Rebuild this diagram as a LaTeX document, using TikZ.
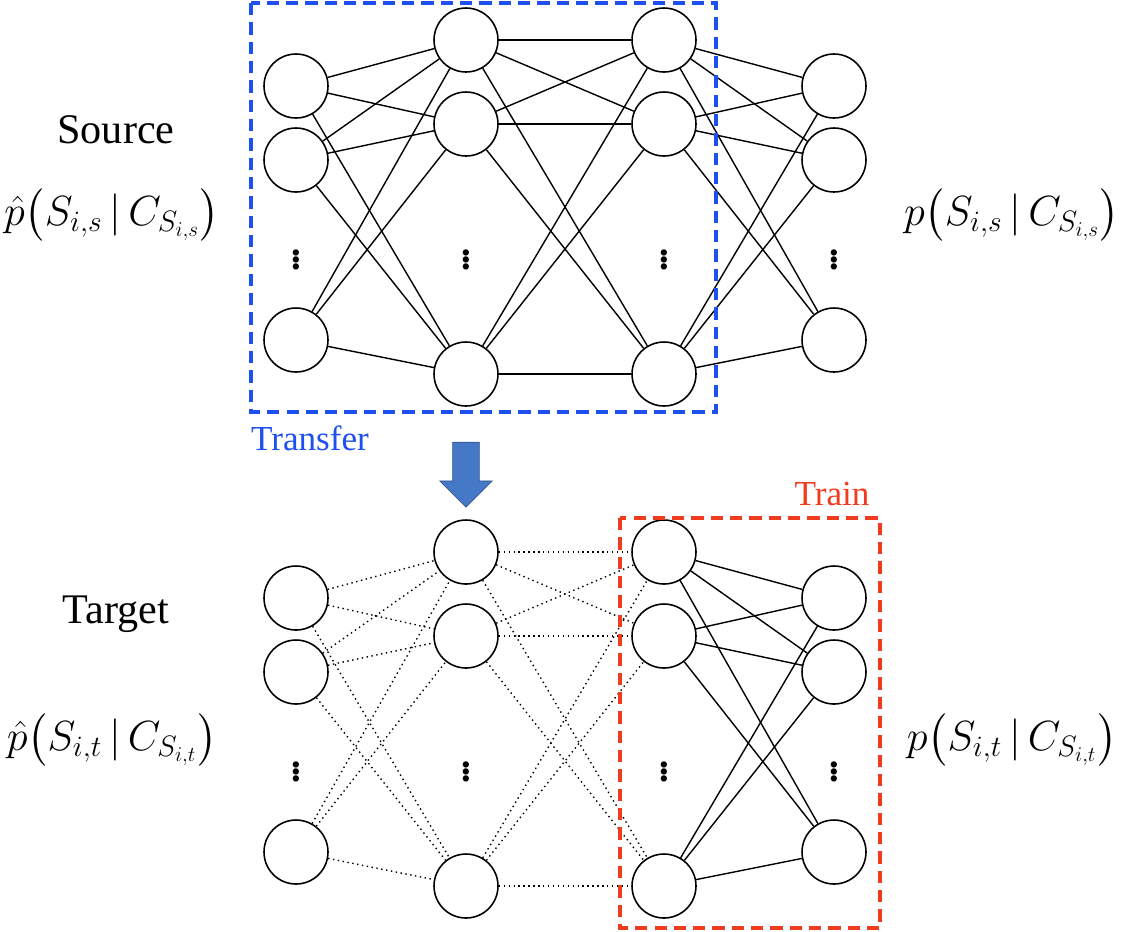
\documentclass[tikz,border=0pt]{standalone}
\usepackage{fix-cm}
\usepackage{amsmath}
\usepackage{fontspec}
\setmainfont{Liberation Serif}
\usetikzlibrary{shapes.arrows}
\definecolor{boxblue}{RGB}{30,80,240}
\definecolor{boxred}{RGB}{240,60,30}
\definecolor{arrowblue}{RGB}{70,120,200}
\tikzset{
  neuron/.style={circle,draw,line width=0.9pt,minimum size=1.28cm,inner sep=0pt,fill=white},
  link/.style={line width=0.8pt},
  weak/.style={line width=0.8pt,dotted},
  frame/.style={line width=1.8pt,dashed,dash pattern=on 7pt off 4pt},
  lbl/.style={font=\fontsize{24}{28}\selectfont},
  eq/.style={font=\fontsize{24}{28}\selectfont,inner sep=1pt},
  tag/.style={font=\fontsize{20}{24}\selectfont},
  ell/.style={inner sep=0pt,font=\fontsize{22}{24}\selectfont\bfseries}
}
\begin{document}
\begin{tikzpicture}[x=0.02cm,y=-0.02cm]
\useasboundingbox (0,0) rectangle (1125,931);
% two networks: top (s) and bottom (t)
\foreach \n/\dy in {s/0,t/512}{
  \foreach \x/\c in {296/1, 466/2, 664/3, 834/4}{
    \node[ell] (\n d\c) at (\x,255+\dy) {$\vdots$};
  }
  \foreach \x/\c/\ya/\yb/\yc in {296/1/86/160/340, 466/2/40/124/374, 664/3/40/124/374, 834/4/86/160/340}{
    \node[neuron] (\n\c a) at (\x,\ya+\dy) {};
    \node[neuron] (\n\c b) at (\x,\yb+\dy) {};
    \node[neuron] (\n\c c) at (\x,\yc+\dy) {};
  }
}
% connections
\foreach \i in {a,b,c}{
  \foreach \j in {a,b,c}{
    \draw[link] (s1\i) -- (s2\j);
    \draw[link] (s2\i) -- (s3\j);
    \draw[link] (s3\i) -- (s4\j);
    \draw[weak] (t1\i) -- (t2\j);
    \draw[weak] (t2\i) -- (t3\j);
    \draw[link] (t3\i) -- (t4\j);
  }
}
% frames
\draw[frame,boxblue] (251,3) rectangle (716,412);
\node[tag,boxblue] (transfer) at (310,438) {Transfer};
\draw[frame,boxred] (620,518) rectangle (880,928);
\node[tag,boxred] (train) at (832,494) {Train};
\node[single arrow,shape border rotate=270,fill=arrowblue,draw=arrowblue!70!black,
  minimum height=1.3cm,minimum width=1.05cm,single arrow head extend=0.12cm] (move) at (466,468) {};
% labels
\node[lbl] (src) at (116,130) {Source};
\node[eq] (srcp) at (112,215) {$\hat{p}\big(S_{i,s}\,|\,C_{S_{i,s}}\big)$};
\node[eq] (srcq) at (1012,215) {$p\big(S_{i,s}\,|\,C_{S_{i,s}}\big)$};
\node[lbl] (tgt) at (116,614) {Target};
\node[eq] (tgtp) at (112,740) {$\hat{p}\big(S_{i,t}\,|\,C_{S_{i,t}}\big)$};
\node[eq] (tgtq) at (1012,740) {$p\big(S_{i,t}\,|\,C_{S_{i,t}}\big)$};
\end{tikzpicture}
\end{document}
